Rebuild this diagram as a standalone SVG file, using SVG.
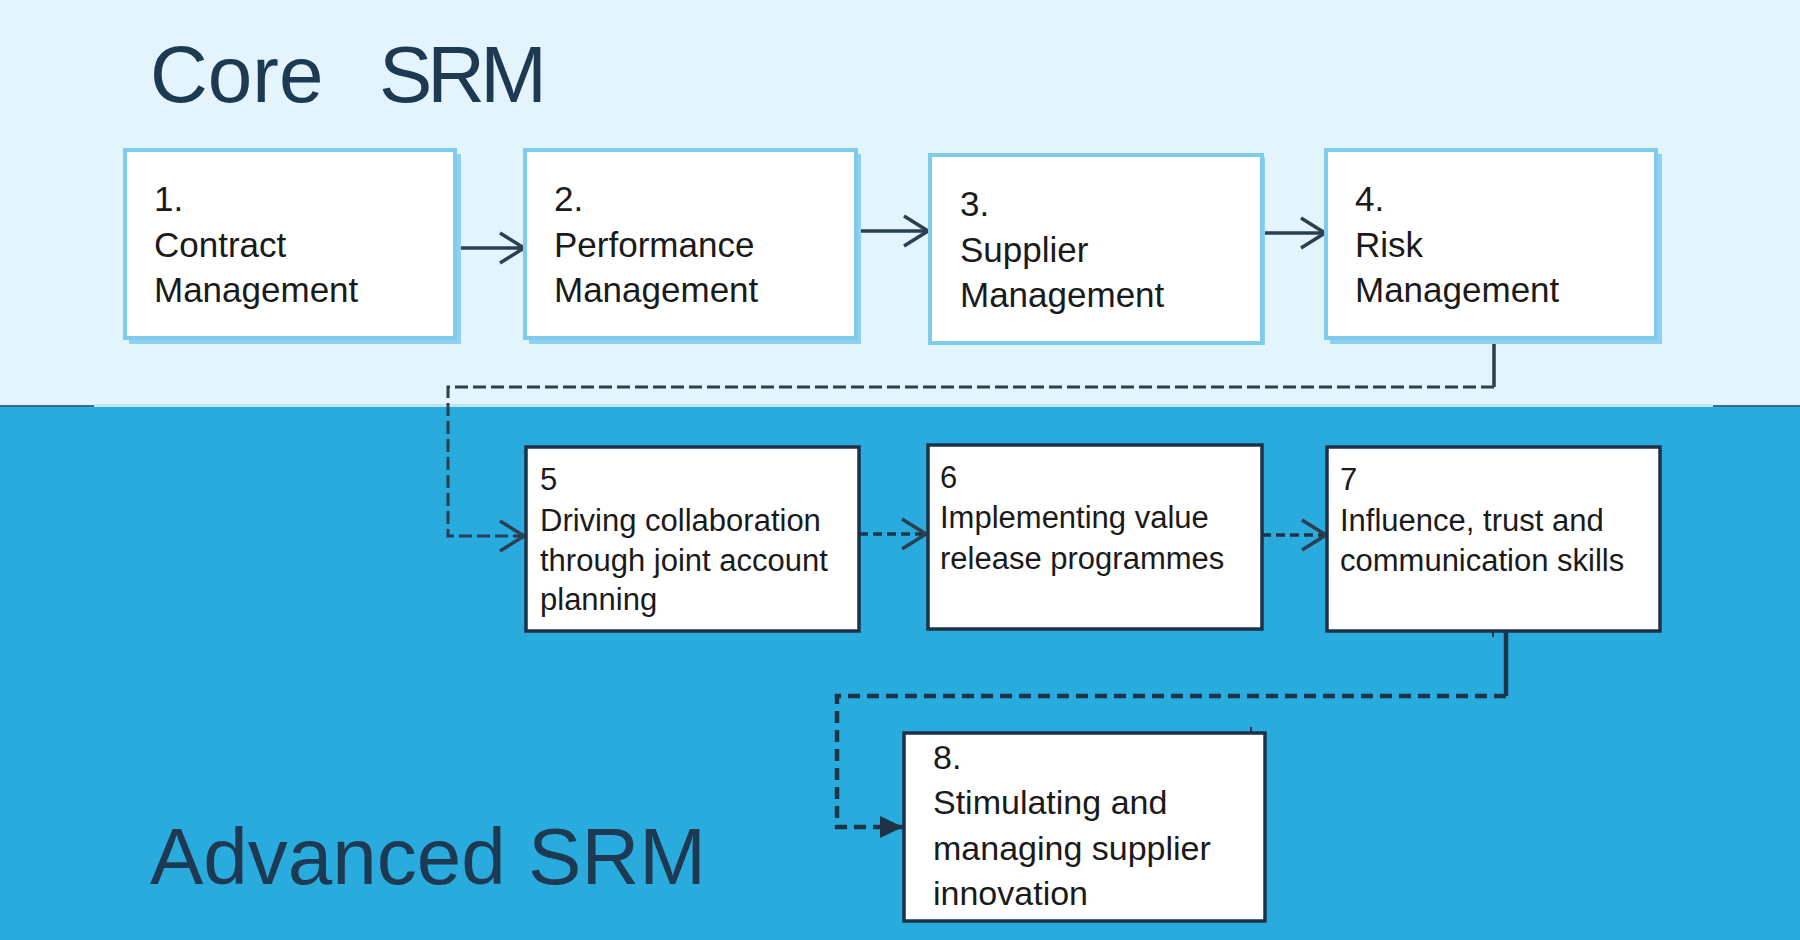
<svg xmlns="http://www.w3.org/2000/svg" width="1800" height="940" viewBox="0 0 1800 940">
<defs>
<style>
.title{font-family:"Liberation Sans",Arial,sans-serif;font-size:80px;fill:#1D3A52}
.ct{font-family:"Liberation Sans",Arial,sans-serif;font-size:35px;fill:#1A1A1A}
.at{font-family:"Liberation Sans",Arial,sans-serif;font-size:31px;fill:#1A1A1A}
.at8{font-family:"Liberation Sans",Arial,sans-serif;font-size:34px;fill:#1A1A1A}
.cbox{fill:#FFFFFF;stroke:#7ECBEB;stroke-width:4}
.cshadow{fill:#8FD2EF}
.abox{fill:#FFFFFF;stroke:#1C3249;stroke-width:3.5}
.solid{fill:none;stroke:#2A3F52;stroke-width:3.5}
.dash1{fill:none;stroke:#2A3F52;stroke-width:3;stroke-dasharray:13 5}
.dash2{fill:none;stroke:#1E3348;stroke-width:3.5;stroke-dasharray:9 5}
.dash3{fill:none;stroke:#1E3348;stroke-width:4.5;stroke-dasharray:12 7}
</style>
<marker id="chev" markerUnits="userSpaceOnUse" markerWidth="30" markerHeight="36" viewBox="0 0 30 36" refX="27" refY="18" orient="auto">
<path d="M3,3 L27,18 L3,33" fill="none" stroke="#2A3F52" stroke-width="3.5"/>
</marker>
<marker id="tri" markerUnits="userSpaceOnUse" markerWidth="24" markerHeight="22" viewBox="0 0 24 22" refX="23" refY="11" orient="auto">
<path d="M0,0 L23,11 L0,22 Z" fill="#1E3348"/>
</marker>
</defs>

<rect x="0" y="0" width="1800" height="406" fill="#E3F4FC"/>
<rect x="0" y="406" width="1800" height="534" fill="#2AABDE"/>
<rect x="94" y="404" width="1619" height="3" fill="#BDE6F6"/>
<rect x="0" y="405" width="94" height="2" fill="#3D6A8A"/>
<rect x="1713" y="405" width="87" height="2" fill="#3D6A8A"/>

<text class="title" x="150" y="102">Core</text>
<text class="title" x="379" y="102" letter-spacing="-5">SRM</text>
<text class="title" x="150" y="884">Advanced SRM</text>

<g id="connectors">
<line class="solid" x1="456" y1="248" x2="524" y2="248" marker-end="url(#chev)"/>
<line class="solid" x1="858" y1="231" x2="928" y2="231" marker-end="url(#chev)"/>
<line class="solid" x1="1263" y1="233" x2="1325" y2="233" marker-end="url(#chev)"/>
<line class="solid" x1="1494" y1="342" x2="1494" y2="387"/>
<path class="dash1" d="M1494,387 L448,387 L448,536 L524,536" marker-end="url(#chev)"/>
<line class="dash2" x1="859" y1="534" x2="926" y2="534" marker-end="url(#chev)"/>
<line class="dash2" x1="1262" y1="535" x2="1326" y2="535" marker-end="url(#chev)"/>
<line class="solid" x1="1506" y1="632" x2="1506" y2="696" style="stroke:#1E3348;stroke-width:4.5"/>
<path class="dash3" d="M1506,696 L837,696 L837,827 L903,827" marker-end="url(#tri)"/>
<line x1="1493" y1="632" x2="1493" y2="637" stroke="#1E3348" stroke-width="2"/>
<line x1="1251" y1="727" x2="1251" y2="733" stroke="#1E3348" stroke-width="2"/>
</g>

<g id="node1">
<rect class="cshadow" x="129" y="154" width="332" height="190"/>
<rect class="cbox" x="125" y="150" width="330" height="188"/>
<text class="ct" x="154" y="211">1.</text>
<text class="ct" x="154" y="257">Contract</text>
<text class="ct" x="154" y="302">Management</text>
</g>
<g id="node2">
<rect class="cshadow" x="529" y="154" width="332" height="190"/>
<rect class="cbox" x="525" y="150" width="331" height="188"/>
<text class="ct" x="554" y="211">2.</text>
<text class="ct" x="554" y="257">Performance</text>
<text class="ct" x="554" y="302">Management</text>
</g>
<g id="node3">
<rect class="cshadow" x="932" y="157" width="333" height="188"/>
<rect class="cbox" x="930" y="155" width="332" height="188"/>
<text class="ct" x="960" y="216">3.</text>
<text class="ct" x="960" y="262">Supplier</text>
<text class="ct" x="960" y="307">Management</text>
</g>
<g id="node4">
<rect class="cshadow" x="1330" y="154" width="332" height="190"/>
<rect class="cbox" x="1326" y="150" width="330" height="188"/>
<text class="ct" x="1355" y="211">4.</text>
<text class="ct" x="1355" y="257">Risk</text>
<text class="ct" x="1355" y="302">Management</text>
</g>

<g id="node5">
<rect class="abox" x="526" y="447" width="333" height="184"/>
<text class="at" x="540" y="490">5</text>
<text class="at" x="540" y="531">Driving collaboration</text>
<text class="at" x="540" y="571">through joint account</text>
<text class="at" x="540" y="610">planning</text>
</g>
<g id="node6">
<rect class="abox" x="928" y="445" width="334" height="184"/>
<text class="at" x="940" y="488">6</text>
<text class="at" x="940" y="528">Implementing value</text>
<text class="at" x="940" y="569">release programmes</text>
</g>
<g id="node7">
<rect class="abox" x="1327" y="447" width="333" height="184"/>
<text class="at" x="1340" y="490">7</text>
<text class="at" x="1340" y="531">Influence, trust and</text>
<text class="at" x="1340" y="571">communication skills</text>
</g>
<g id="node8">
<rect class="abox" x="904" y="733" width="361" height="188"/>
<text class="at8" x="933" y="769">8.</text>
<text class="at8" x="933" y="814">Stimulating and</text>
<text class="at8" x="933" y="860">managing supplier</text>
<text class="at8" x="933" y="905">innovation</text>
</g>
</svg>
